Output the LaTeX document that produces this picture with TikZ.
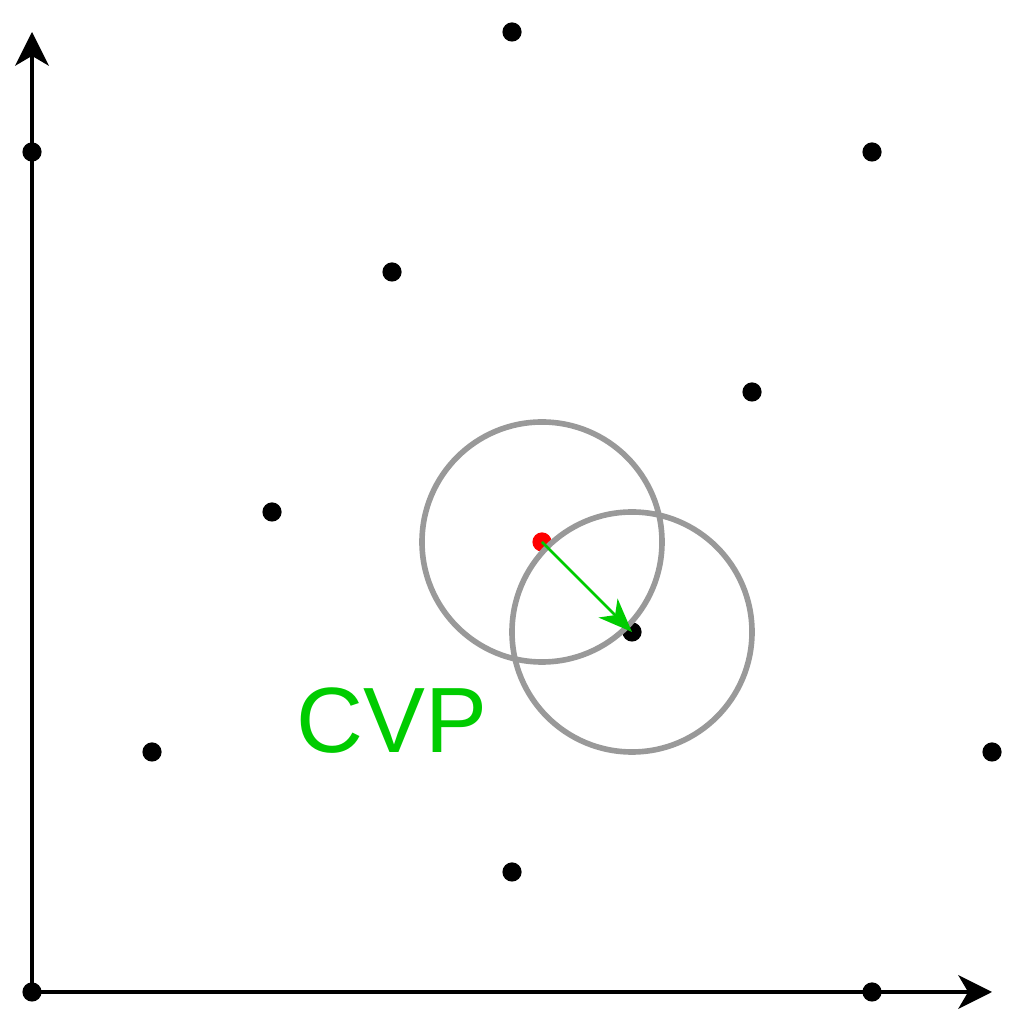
\documentclass[tikz,border=0pt]{standalone}
\usepackage{fontspec}
\setmainfont{Liberation Sans}
\usepackage{tikz,xcolor}
\usetikzlibrary{arrows.meta}

\definecolor{cvpgreen}{HTML}{00CC00}
\definecolor{ringgray}{HTML}{999999}

\tikzset{
	dot/.style={circle, fill=black, inner sep=0pt, minimum size=0.48cm},
	ring/.style={draw=ringgray, line width=4pt},
	axis/.style={line width=2.4pt, -{Stealth[length=24pt, width=24pt, inset=7pt]}}
}

\begin{document}
\begin{tikzpicture}[x=3cm, y=3cm]

	\useasboundingbox (-0.2667,-0.2667) rectangle (8.2667,8.2667);

	% lattice points
	\node[dot] (o) at (0,0) {};
	\foreach \px/\py/\name in {4/8/p1, 0/7/p2, 7/7/p3, 3/6/p4, 6/5/p5, 2/4/p6, 5/3/p7, 1/2/p8, 8/2/p9, 4/1/p10, 7/0/p11}
		\node[dot] (\name) at (\px,\py) {};

	% axes
	\coordinate (xend) at (8,0);
	\coordinate (yend) at (0,8);
	\draw[axis] (o.center) -- (xend);
	\draw[axis] (o.center) -- (yend);

	% target and closest vector
	\node[dot, fill=red] (t) at (4.25,3.75) {};
	\draw[ring] (t.center) circle (1);
	\draw[ring] (p7.center) circle (1);
	\draw[cvpgreen, line width=1.8pt, -{Stealth[length=24pt, width=19pt, inset=7pt]}] (t.center) -- (p7.center);

	\node[cvpgreen, font=\fontsize{66}{80}\selectfont] (cvp) at (3.0,2.26) {CVP};

\end{tikzpicture}
\end{document}
